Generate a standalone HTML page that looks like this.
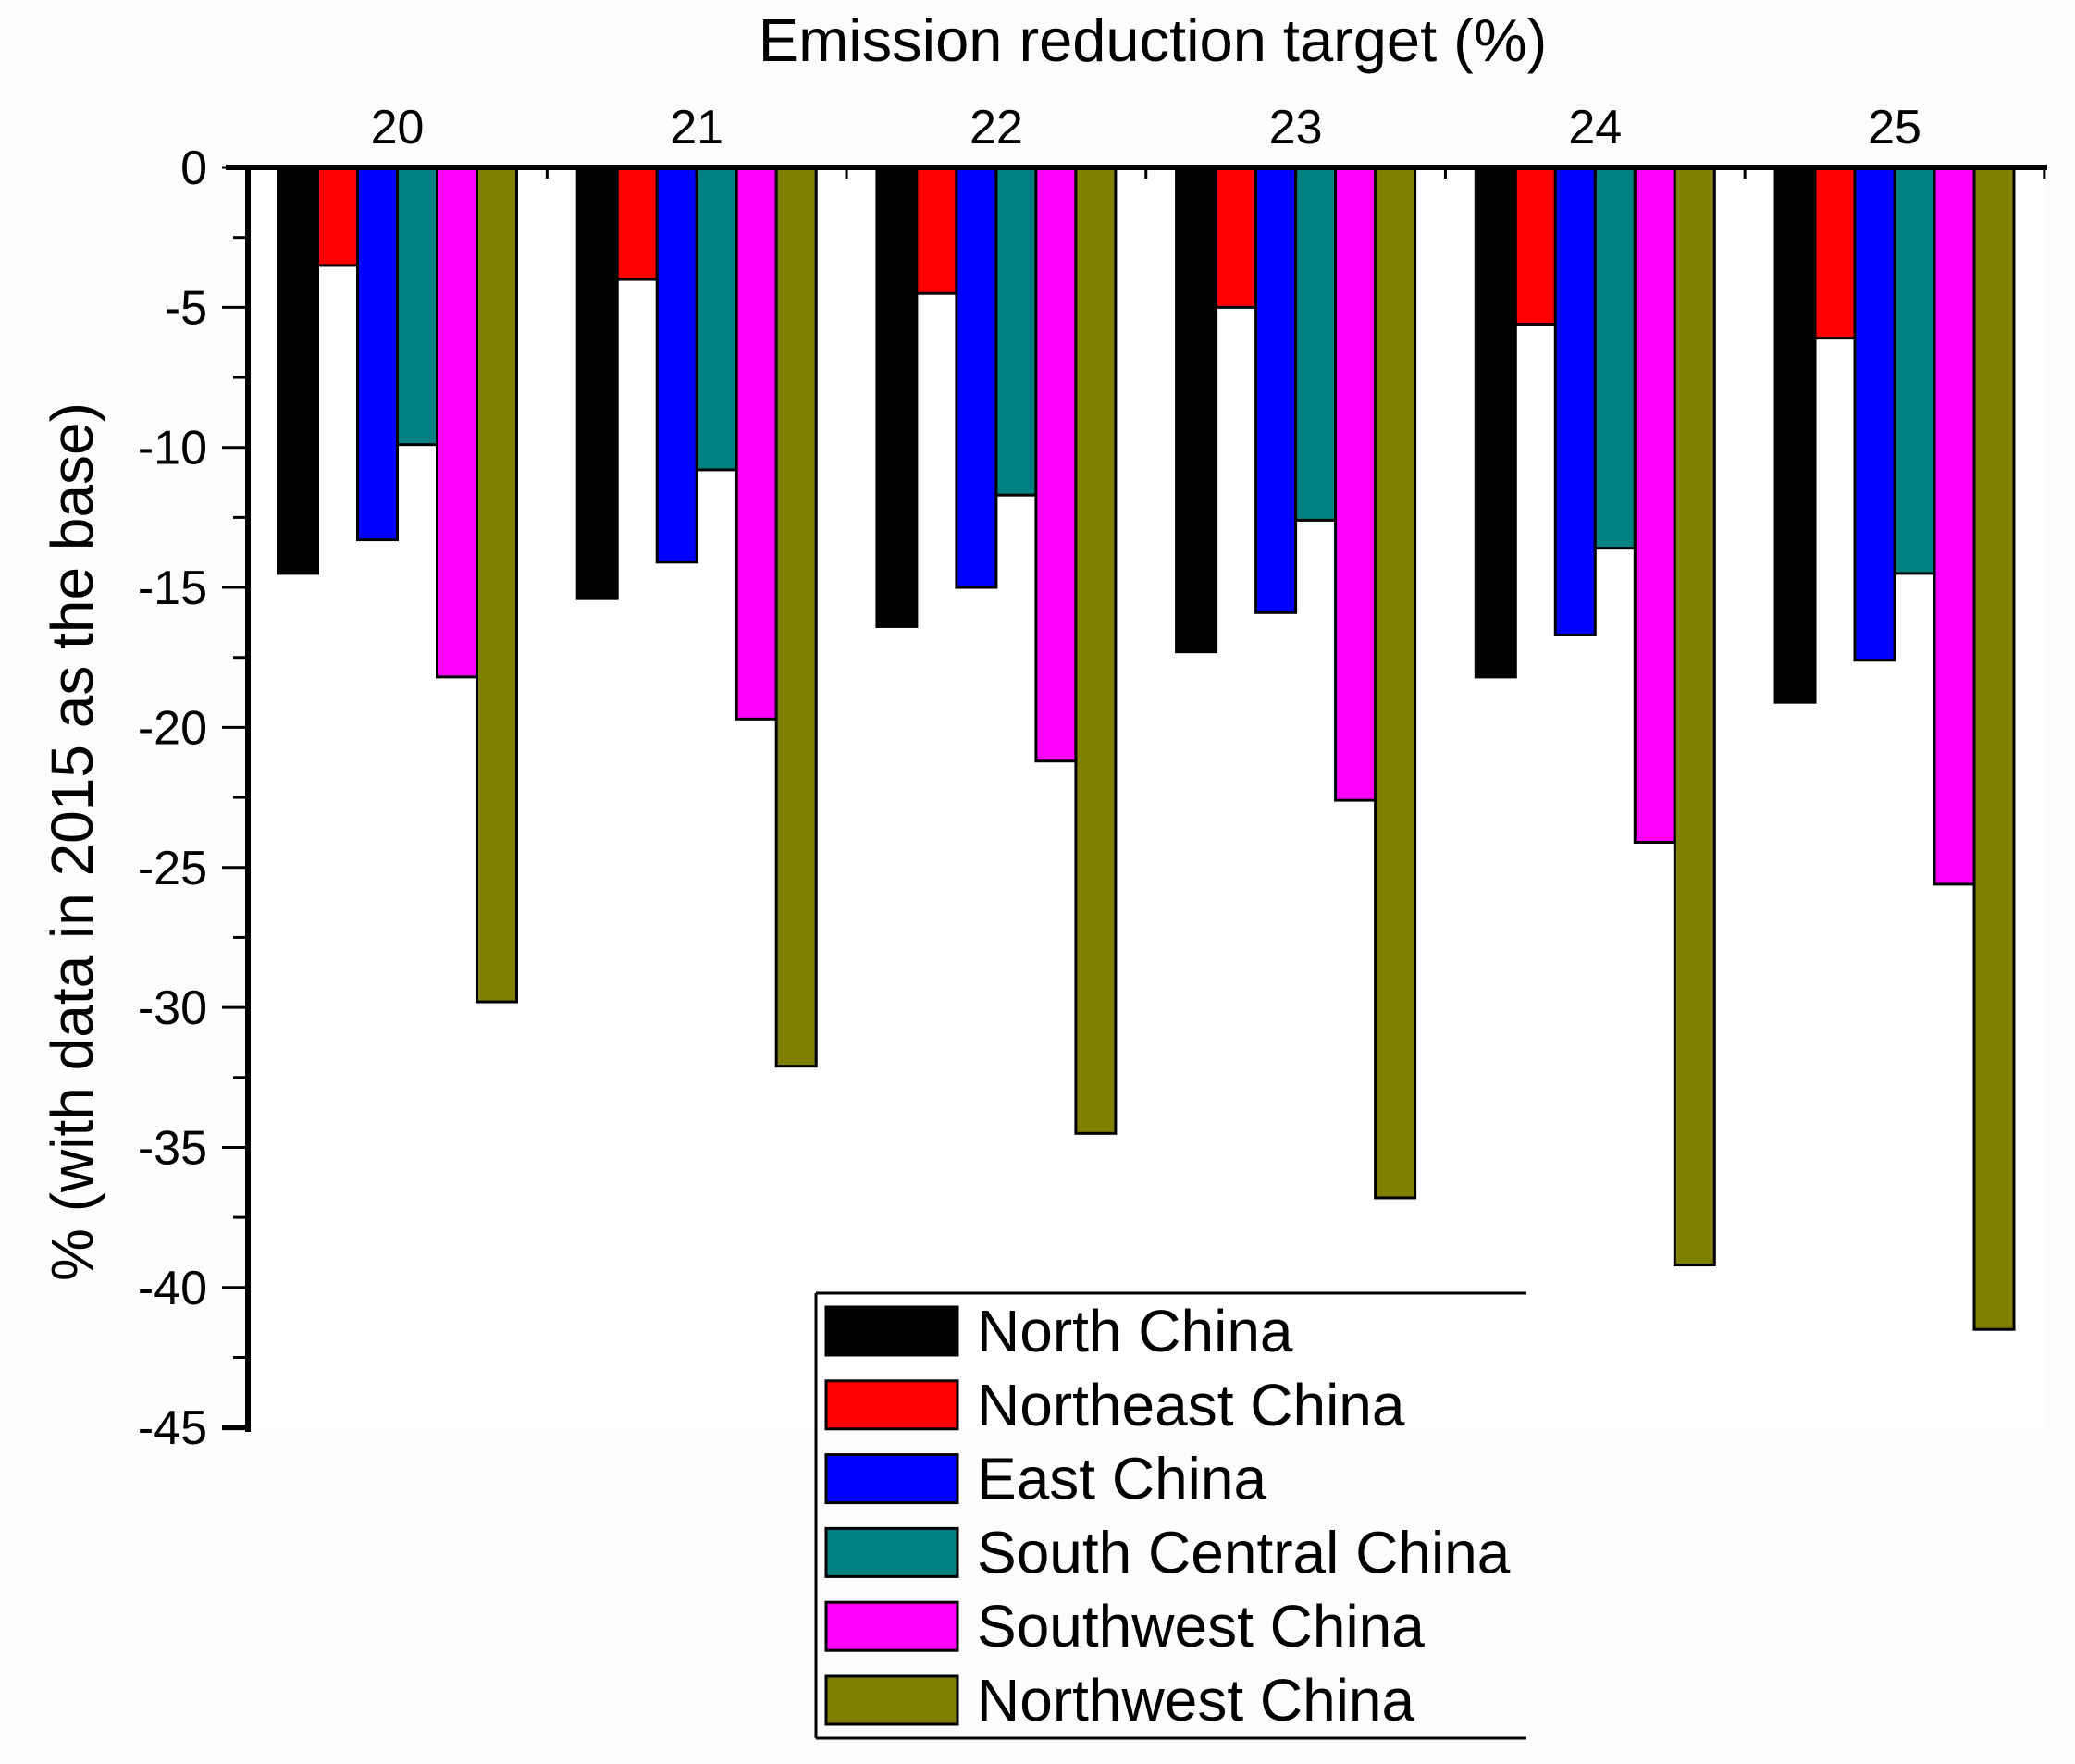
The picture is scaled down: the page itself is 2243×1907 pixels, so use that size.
<!DOCTYPE html>
<html><head><style>
html,body{margin:0;padding:0;background:#fdfdfd;}
svg{display:block;}
text{font-family:"Liberation Sans",Arial,sans-serif;fill:#000;}
</style></head><body>
<svg width="2243" height="1907" viewBox="0 0 2243 1907" xmlns="http://www.w3.org/2000/svg">
<rect x="0" y="0" width="2243" height="1907" fill="#fdfdfd"/>
<rect x="268" y="181" width="1944" height="1364" fill="#ffffff"/>
<g id="bars" stroke="#000" stroke-width="3"></g>
<text x="1246" y="66" font-size="65" text-anchor="middle">Emission reduction target (%)</text>
<g font-size="52" text-anchor="middle" id="glab"></g>
<g font-size="52" text-anchor="end" id="ylab"></g>
<g id="axes" stroke="#000"></g>
<text transform="translate(100,910) rotate(-90)" font-size="64" text-anchor="middle">% (with data in 2015 as the base)</text>
<g id="leg"></g>
<script>
var ns="http://www.w3.org/2000/svg";
function el(p,t,a,txt){var e=document.createElementNS(ns,t);for(var k in a)e.setAttribute(k,a[k]);if(txt!==undefined)e.textContent=txt;document.getElementById(p).appendChild(e);return e;}
var Z=181,U=30.27,X0=300.5,GS=323.7,BW=43;
var cols=["#000000","#ff0000","#0000ff","#008080","#ff00ff","#808000"];
var data=[[-14.5,-3.5,-13.3,-9.9,-18.2,-29.8],[-15.4,-4.0,-14.1,-10.8,-19.7,-32.1],[-16.4,-4.5,-15.0,-11.7,-21.2,-34.5],[-17.3,-5.0,-15.9,-12.6,-22.6,-36.8],[-18.2,-5.6,-16.7,-13.6,-24.1,-39.2],[-19.1,-6.1,-17.6,-14.5,-25.6,-41.5]];
for(var g=0;g<6;g++){var s=X0+g*GS;
 for(var i=0;i<6;i++){var v=data[g][i];el("bars","rect",{x:s+i*BW,y:Z,width:BW,height:-v*U,fill:cols[i]});}
 el("glab","text",{x:s+129,y:155},String(20+g));
 el("axes","line",{x1:s+129,y1:Z,x2:s+129,y2:Z+12,"stroke-width":3});
 el("axes","line",{x1:s+129+GS/2,y1:Z,x2:s+129+GS/2,y2:Z+12,"stroke-width":3});
}
el("axes","line",{x1:244,y1:Z,x2:2213,y2:Z,"stroke-width":6});
el("axes","line",{x1:268,y1:Z-3,x2:268,y2:1548,"stroke-width":6});
for(var k=0;k<=9;k++){var y=Z+k*5*U;
 el("axes","line",{x1:240,y1:y,x2:268,y2:y,"stroke-width":k==9?6:3});
 el("ylab","text",{x:224,y:y+18},k==0?"0":"-"+(k*5));
 if(k<9){var y2=y+2.5*U;el("axes","line",{x1:252,y1:y2,x2:268,y2:y2,"stroke-width":3});}
}
el("leg","line",{x1:882,y1:1398,x2:1650,y2:1398,stroke:"#000","stroke-width":3});
el("leg","line",{x1:882,y1:1879,x2:1650,y2:1879,stroke:"#000","stroke-width":3});
el("leg","line",{x1:882,y1:1398,x2:882,y2:1879,stroke:"#000","stroke-width":3});
var names=["North China","Northeast China","East China","South Central China","Southwest China","Northwest China"];
for(var i=0;i<6;i++){var cy=1439+i*79.8;
 el("leg","rect",{x:893,y:cy-26,width:142,height:52,fill:cols[i],stroke:"#000","stroke-width":3});
 el("leg","text",{x:1056,y:cy+22,"font-size":64},names[i]);
}
</script>
</svg>
</body></html>
